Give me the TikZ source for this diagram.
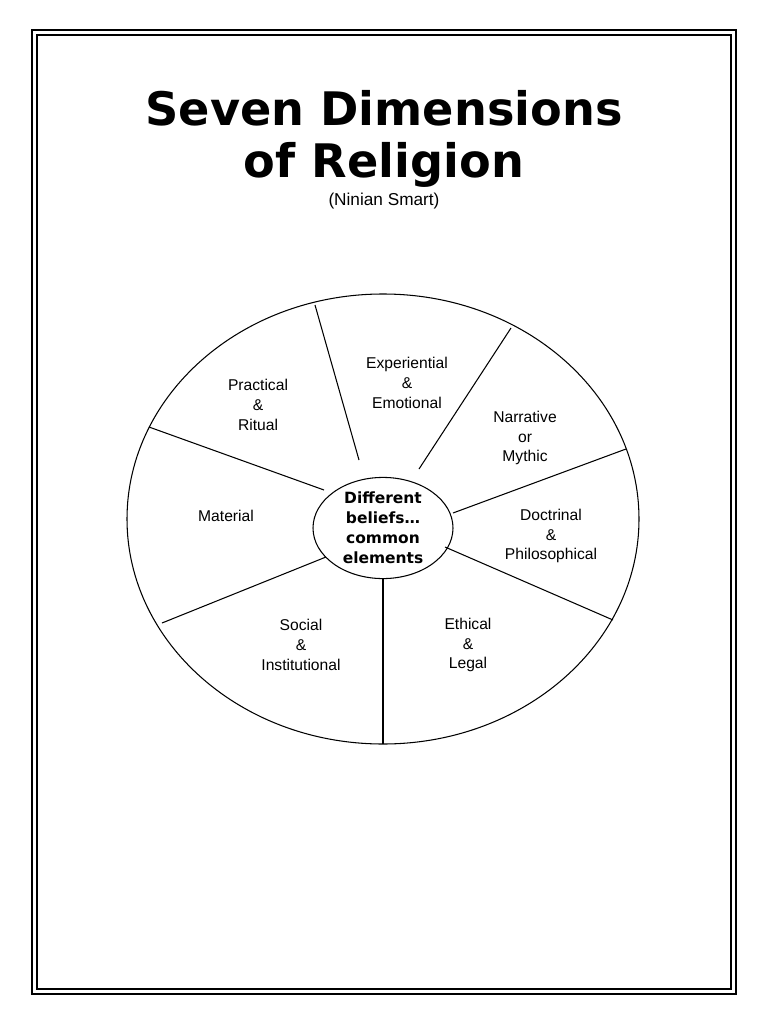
\documentclass[tikz,border=0pt]{standalone}
\usepackage{fontspec}
\setmainfont{Liberation Sans}
\newfontfamily\titlefont{DejaVu Sans}
\usetikzlibrary{shapes.geometric, positioning, calc}

\begin{document}
\begin{tikzpicture}[x=0.02cm, y=-0.02cm,
  dimlabel/.style={align=center, font=\fontsize{8.9pt}{11.3pt}\selectfont},
  spoke/.style={draw, line width=0.6pt}]
\useasboundingbox (0,0) rectangle (768,1024);
% Page frame
\draw[line width=0.9pt] (32,30) rectangle (736,994);
\draw[line width=0.9pt] (37,35) rectangle (731,989);

% Title
\node[font=\titlefont\bfseries\fontsize{26.3pt}{29.5pt}\selectfont, align=center] (title) at (384,139) {Seven Dimensions\\of Religion};
\node[font=\fontsize{9.8pt}{12pt}\selectfont] (author) at (384,201) {(Ninian Smart)};

% Wheel
\draw[line width=0.6pt] (383,519) ellipse [x radius=256, y radius=225];
\node[draw, ellipse, line width=0.6pt, minimum width=140*0.02cm, minimum height=100*0.02cm, inner sep=0pt,
  align=center, font=\titlefont\bfseries\fontsize{8.8pt}{11.3pt}\selectfont] (core) at (383,528)
  {Different\\beliefs\dots\\common\\elements};

% Spoke ends
\coordinate (o1) at (315,305);
\coordinate (i1) at (359,460);
\coordinate (o2) at (511,328);
\coordinate (i2) at (419,469);
\coordinate (o3) at (626,449);
\coordinate (i3) at (453,513);
\coordinate (o4) at (613,620);
\coordinate (i4) at (445,547);
\coordinate (o5) at (383,744);
\coordinate (i5) at (383,578);
\coordinate (o6) at (162,623);
\coordinate (i6) at (326,557);
\coordinate (o7) at (149,427);
\coordinate (i7) at (324,490);
\foreach \k in {1,...,7}
  \draw[spoke] (i\k) -- (o\k);

% Dimensions
\node[dimlabel] (practical) at (258,405) {Practical\\\&\\Ritual};
\node[dimlabel] (experiential) at (407,383) {Experiential\\\&\\Emotional};
\node[dimlabel] (narrative) at (525,438) {Narrative\\or\\Mythic};
\node[dimlabel] (material) at (226,516) {Material};
\node[dimlabel] (doctrinal) at (551,536) {Doctrinal\\\&\\Philosophical};
\node[dimlabel] (social) at (301,645) {Social\\\&\\Institutional};
\node[dimlabel] (ethical) at (468,645) {Ethical\\\&\\Legal};
\end{tikzpicture}
\end{document}
